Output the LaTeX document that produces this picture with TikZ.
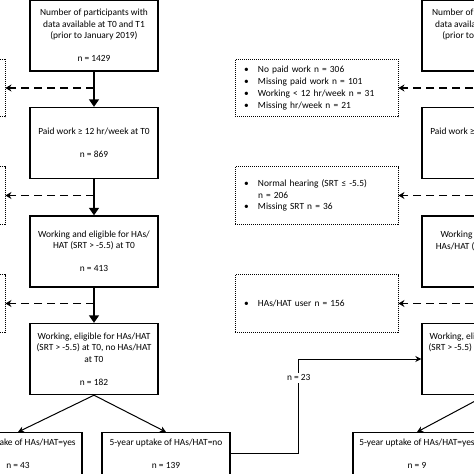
\documentclass[tikz,border=0pt]{standalone}
\usepackage{fontspec}
\setmainfont{Carlito}
\usetikzlibrary{arrows.meta}

\tikzset{every picture/.style={line width=0.75pt}}
\newcommand{\exitem}{\makebox[14pt][l]{\textbullet}}
\newcommand{\exgap}{\hspace*{14pt}}

\begin{document}
\begin{tikzpicture}[x=1pt,y=1pt,yscale=-1,xscale=1,
  flowbox/.style={draw, line width=1.4pt, minimum width=128, minimum height=71, inner xsep=2, align=center, font=\fontsize{9.4}{11.5}\selectfont},
  outbox/.style={flowbox, anchor=north, minimum height=42},
  exbox/.style={draw, line width=0.9pt, dash pattern=on 1pt off 1pt, minimum width=163, minimum height=57.5, text width=145, inner xsep=9, align=left, font=\fontsize{9.4}{11.7}\selectfont},
  solidarrow/.style={line width=1.6pt, -{Triangle[length=7.5pt,width=10pt]}},
  dasharrow/.style={line width=1.3pt, dash pattern=on 8pt off 5pt, -{Stealth[length=6pt,width=7pt]}},
  thinarrow/.style={line width=1pt, -{Stealth[length=6pt,width=6pt]}}]
\useasboundingbox (0,0) rectangle (474,474);
\clip (0,0) rectangle (474,474);

%Left column
\node[flowbox] (t0L) at (94,35.5) {Number of participants with\\data available at T0 and T1\\(prior to January 2019)\\[11.5pt]n = 1429};
\node[flowbox] (workL) at (94,143) {Paid work ≥ 12 hr/week at T0\\[11.5pt]n = 869};
\node[flowbox] (eligL) at (94,251.5) {Working and eligible for HAs/\\HAT (SRT > -5.5) at T0\\[11.5pt]n = 413};
\node[flowbox] (noHatL) at (94,359) {Working, eligible for HAs/HAT\\(SRT > -5.5) at T0, no HAs/HAT\\at T0\\[11.5pt]n = 182};
\node[outbox] (yesL) at (18,432) {5-year uptake of HAs/HAT=yes\\[11.5pt]n = 43};
\node[outbox] (noL) at (166,432) {5-year uptake of HAs/HAT=no\\[11.5pt]n = 139};

%Right column
\node[flowbox] (t0R) at (486,35.5) {Number of participants with\\data available at T0 and T1\\(prior to January 2019)\\[11.5pt]\phantom{n}};
\node[flowbox] (workR) at (486,143) {Paid work ≥ 12 hr/week at T0\\[11.5pt]\phantom{n}};
\node[flowbox] (eligR) at (486,251.5) {Working and eligible for\\HAs/HAT (SRT > -5.5) at T0\\[11.5pt]\phantom{n}};
\node[flowbox] (noHatR) at (486,359) {Working, eligible for HAs/HAT\\(SRT > -5.5) at T0, no HAs/HAT\\at T0\\[11.5pt]\phantom{n}};
\node[outbox] (yesR) at (417,432) {5-year uptake of HAs/HAT=yes\\[11.5pt]n = 9};

%Exclusion boxes
\node[exbox] (exL1) at (-76.5,88) {};
\node[exbox] (exL2) at (-76.5,195.5) {};
\node[exbox] (exL3) at (-76.5,303.5) {};
\node[exbox] (exM1) at (316.5,88) {\exitem No paid work n = 306\\\exitem Missing paid work n = 101\\\exitem Working < 12 hr/week n = 31\\\exitem Missing hr/week n = 21};
\node[exbox] (exM2) at (316.5,195.5) {\exitem Normal hearing (SRT ≤ -5.5)\\\exgap n = 206\\\exitem Missing SRT n = 36};
\node[exbox] (exM3) at (316.5,303.5) {\exitem HAs/HAT user n = 156};

%Main arrows
\draw[solidarrow] (t0L) -- (workL);
\draw[solidarrow] (workL) -- (eligL);
\draw[solidarrow] (eligL) -- (noHatL);
\draw[solidarrow] (t0R) -- (workR);
\draw[solidarrow] (workR) -- (eligR);
\draw[solidarrow] (eligR) -- (noHatR);

%Excluded
\coordinate (cutL1) at (t0L.south |- exL1);
\coordinate (cutL2) at (workL.south |- exL2);
\coordinate (cutL3) at (eligL.south |- exL3);
\coordinate (cutR1) at (t0R.south |- exM1);
\coordinate (cutR2) at (workR.south |- exM2);
\coordinate (cutR3) at (eligR.south |- exM3);
\draw[dasharrow] (cutL1) -- (exL1);
\draw[dasharrow] (cutL2) -- (exL2);
\draw[dasharrow] (cutL3) -- (exL3);
\draw[dasharrow] (cutR1) -- (exM1);
\draw[dasharrow] (cutR2) -- (exM2);
\draw[dasharrow] (cutR3) -- (exM3);

%Uptake
\draw[thinarrow] (noHatL.south) -- (yesL.north);
\draw[thinarrow] (noHatL.south) -- (noL.north);
\draw[thinarrow] (noHatR.south) -- (yesR.north);
\draw[thinarrow] (noL.east) -- ++(68,0) |- node[pos=0.4, fill=white, inner sep=1.5pt, font=\fontsize{9.4}{11.5}\selectfont] (n23) {n = 23} (noHatR.west);

\end{tikzpicture}
\end{document}
